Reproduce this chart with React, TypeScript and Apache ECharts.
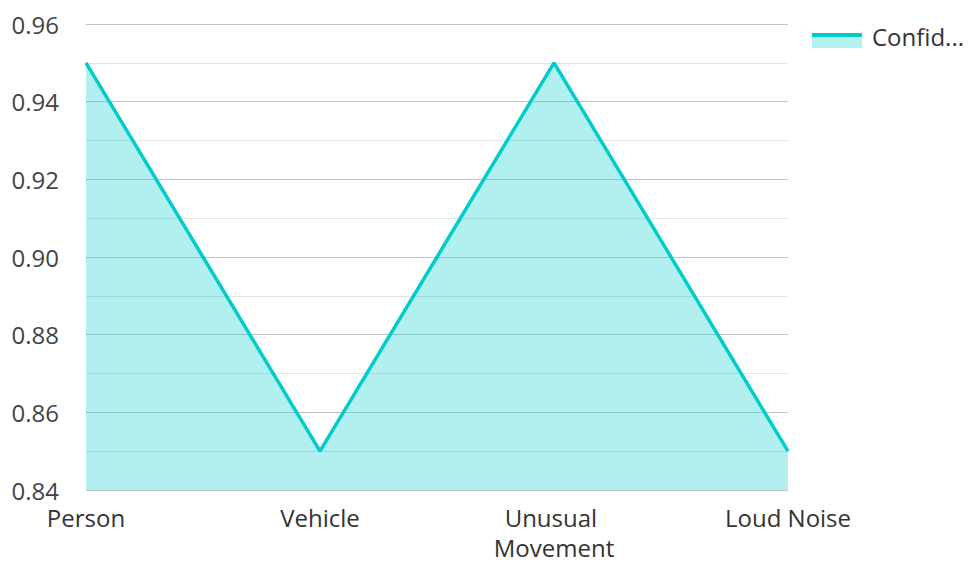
import React, { useEffect, useRef } from "react";
import * as echarts from "echarts";

const categories = ["Person", "Vehicle", "Unusual Movement", "Loud Noise"];
const confidence = [0.95, 0.85, 0.95, 0.85];
const seriesName = "Confidence";
const legendLabel = "Confid...";

export default function App() {
  const ref = useRef<HTMLDivElement>(null);
  useEffect(() => {
    if (!ref.current) return;
    const chart = echarts.init(ref.current, null, { renderer: "svg" });
    const font = "'Open Sans', sans-serif";
    chart.setOption({
      animation: false,
      textStyle: { fontFamily: font },
      grid: { left: 86, right: 181, top: 24, bottom: 72, outerBoundsMode: "none", containLabel: false },
      xAxis: {
        type: "category",
        data: categories,
        boundaryGap: false,
        axisLine: { show: false },
        axisTick: { show: false },
        axisLabel: {
          interval: 0,
          color: "#333",
          fontSize: 24,
          fontFamily: font,
          margin: 12,
          width: 160,
          overflow: "break",
          lineHeight: 30,
        },
      },
      yAxis: {
        type: "value",
        min: 0.84,
        max: 0.96,
        interval: 0.02,
        axisLine: { show: false },
        axisTick: { show: false },
        axisLabel: {
          color: "#444",
          fontSize: 24,
          fontFamily: font,
          margin: 27,
          formatter: (v: number) => v.toFixed(2),
        },
        splitLine: { lineStyle: { color: "#c4c4c4", width: 1.2 } },
        minorTick: { show: false, splitNumber: 2 },
        minorSplitLine: { show: true, lineStyle: { color: "#e4e4e4", width: 1 } },
      },
      series: [
        {
          name: seriesName,
          type: "line",
          data: confidence,
          symbol: "none",
          lineStyle: { color: "#00cccc", width: 3.5 },
          itemStyle: { color: "#00cccc" },
          areaStyle: { color: "#00cccc", opacity: 0.3 },
        },
      ],
      graphic: [
        {
          type: "rect",
          shape: { x: 812, y: 36, width: 50, height: 12 },
          style: { fill: "#b3f0f0" },
        },
        {
          type: "rect",
          shape: { x: 812, y: 33, width: 50, height: 4 },
          style: { fill: "#00cccc" },
        },
        {
          type: "text",
          x: 872,
          y: 36,
          style: {
            text: legendLabel,
            fill: "#333",
            font: `24px ${font}`,
            textVerticalAlign: "middle",
            verticalAlign: "middle",
          },
        },
      ],
    });
    return () => chart.dispose();
  }, []);
  return <div ref={ref} style={{ width: 969, height: 562, position: "absolute", left: 0, top: 0 }} />;
}
